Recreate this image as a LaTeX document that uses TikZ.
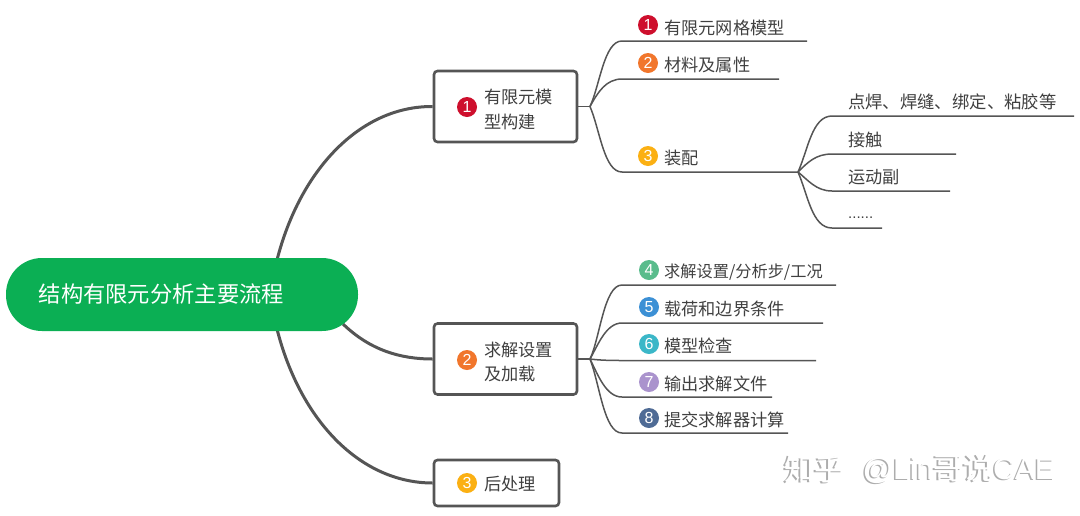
\documentclass[tikz,border=0pt]{standalone}
\usepackage{fontspec}
\setmainfont{Noto Sans CJK SC}
\newfontfamily\latinf{Liberation Sans}
\usetikzlibrary{backgrounds}
\definecolor{ink}{HTML}{404040}
\definecolor{wire}{HTML}{555555}
\definecolor{rootgreen}{HTML}{0BAF54}
\definecolor{bA}{HTML}{CE0F2D}
\definecolor{bB}{HTML}{F1762C}
\definecolor{bC}{HTML}{FBB013}
\definecolor{bD}{HTML}{59BC8C}
\definecolor{bE}{HTML}{3C90D5}
\definecolor{bF}{HTML}{3BB7C8}
\definecolor{bG}{HTML}{AA93CD}
\definecolor{bH}{HTML}{4F6B95}
\tikzset{
  x=1pt,y=-1pt,
  rootnode/.style={fill=rootgreen,rounded corners=36pt,minimum width=352pt,minimum height=73pt,inner sep=0pt},
  boxnode/.style={draw=wire,fill=white,line width=2.6pt,rounded corners=3.5pt,minimum height=71pt,inner sep=0pt},
  badge/.style={circle,fill=#1,minimum size=20pt,inner sep=0pt,text=white,font=\latinf\fontsize{16}{16}\selectfont},
  label/.style={anchor=west,inner sep=0pt,yshift=-0.8pt,text=ink,font=\fontsize{17.2}{17.2}\selectfont},
  trunk/.style={draw=wire,line width=3pt},
  twig/.style={draw=wire,line width=1.5pt},
  wm/.style={anchor=west,inner sep=0pt,font=\fontsize{#1}{#1}\selectfont},
}
\begin{document}
\begin{tikzpicture}
\useasboundingbox (0,0) rectangle (1080,515);
% root
\node[rootnode] (root) at (182,294.5) {};
\node[anchor=west,inner sep=0pt,text=white,font=\fontsize{22.3}{22.3}\selectfont] (roottext) at (38.5,294.5) {结构有限元分析主要流程};
% main boxes
\node[boxnode,minimum width=143pt] (b1) at (505.5,106.5) {};
\node[boxnode,minimum width=143pt] (b2) at (505.5,359) {};
\node[boxnode,minimum width=125pt,minimum height=46pt] (b3) at (496.5,483) {};
\node[badge=bA] (b1i) at (467,107) {1};
\node[badge=bB] (b2i) at (467,360) {2};
\node[badge=bC] (b3i) at (467,483) {3};
\node[label] (b1t) at (484,96) {有限元模};
\node[label] (b1u) at (484,121) {型构建};
\node[label] (b2t) at (484,349) {求解设置};
\node[label] (b2u) at (484,373.5) {及加载};
\node[label] (b3t) at (484,483.5) {后处理};
% trunk ends on the root
\coordinate (r1) at (277,260);
\coordinate (r2) at (343,324);
\coordinate (r3) at (277,329);
\begin{scope}[on background layer]
\draw[trunk] (r1) .. controls (300,170) and (360,106) .. (b1.west);
\draw[trunk] (r2) .. controls (370,350) and (400,359) .. (b2.west);
\draw[trunk] (r3) .. controls (300,420) and (360,483) .. (b3.west);
\end{scope}
% junctions
\coordinate (j1) at (590,106.5);
\coordinate (j2) at (590,359);
\coordinate (j3) at (798,172);
\draw[twig] (b1.east) -- (j1);
\draw[twig] (b2.east) -- (j2);
% leaves of box 1
\node[badge=bA] (i1) at (648,25) {1};
\node[badge=bB] (i2) at (648,63) {2};
\node[badge=bC] (i3) at (648,156) {3};
\node[label] (t1) at (664,27) {有限元网格模型};
\node[label] (t2) at (664,64) {材料及属性};
\node[label] (t3) at (664,157) {装配};
\coordinate (e1) at (807,41);
\coordinate (e2) at (779,79);
\draw[twig] (j1) .. controls (600,85) and (604,41) .. (622,41) -- (e1);
\draw[twig] (j1) .. controls (598,92) and (606,79) .. (622,79) -- (e2);
\draw[twig] (j1) .. controls (600,130) and (604,172) .. (622,172) -- (j3);
% leaves of assembly
\node[label,font=\fontsize{17.35}{17.35}\selectfont] (s1) at (848,101) {点焊、焊缝、绑定、粘胶等};
\node[label] (s2) at (848,139) {接触};
\node[label] (s3) at (848,176.5) {运动副};
\node[anchor=west,inner sep=0pt,text=ink,font=\latinf\fontsize{15}{15}\selectfont] (s4) at (848,218) {......};
\coordinate (f1) at (1074,116);
\coordinate (f2) at (956,154);
\coordinate (f3) at (950,191);
\coordinate (f4) at (882,228);
\draw[twig] (j3) .. controls (808,150) and (812,116) .. (832,116) -- (f1);
\draw[twig] (j3) .. controls (808,162) and (816,154) .. (832,154) -- (f2);
\draw[twig] (j3) .. controls (808,180) and (816,191) .. (832,191) -- (f3);
\draw[twig] (j3) .. controls (808,195) and (812,228) .. (832,228) -- (f4);
% leaves of box 2
\node[badge=bD] (i4) at (649,270) {4};
\node[badge=bE] (i5) at (649,307) {5};
\node[badge=bF] (i6) at (649,344) {6};
\node[badge=bG] (i7) at (649,382) {7};
\node[badge=bH] (i8) at (649,418) {8};
\node[label,font=\fontsize{16.2}{16.2}\selectfont] (t4) at (664,271) {求解设置/分析步/工况};
\node[label] (t5) at (664,308) {载荷和边界条件};
\node[label] (t6) at (664,345) {模型检查};
\node[label] (t7) at (664,383) {输出求解文件};
\node[label] (t8) at (664,419) {提交求解器计算};
\coordinate (e4) at (836,285);
\coordinate (e5) at (823,323);
\coordinate (e6) at (816,360.5);
\coordinate (e7) at (772,397);
\coordinate (e8) at (788,433);
\draw[twig] (j2) .. controls (600,338) and (604,285) .. (622,285) -- (e4);
\draw[twig] (j2) .. controls (598,345) and (606,323) .. (622,323) -- (e5);
\draw[twig] (j2) .. controls (598,360) and (606,360.5) .. (622,360.5) -- (e6);
\draw[twig] (j2) .. controls (598,375) and (606,397) .. (622,397) -- (e7);
\draw[twig] (j2) .. controls (600,385) and (604,433) .. (622,433) -- (e8);
% watermark
\node[wm=30,text=black!32] (w1a) at (782.5,470) {知乎};
\node[wm=30,text=white] (w1b) at (784,469) {知乎};
\node[wm=30,text=black!32] (w2a) at (861,470) {\latinf @Lin\rmfamily 哥说\latinf CAE};
\node[wm=30,text=white] (w2b) at (862.5,469) {\latinf @Lin\rmfamily 哥说\latinf CAE};
\end{tikzpicture}
\end{document}
